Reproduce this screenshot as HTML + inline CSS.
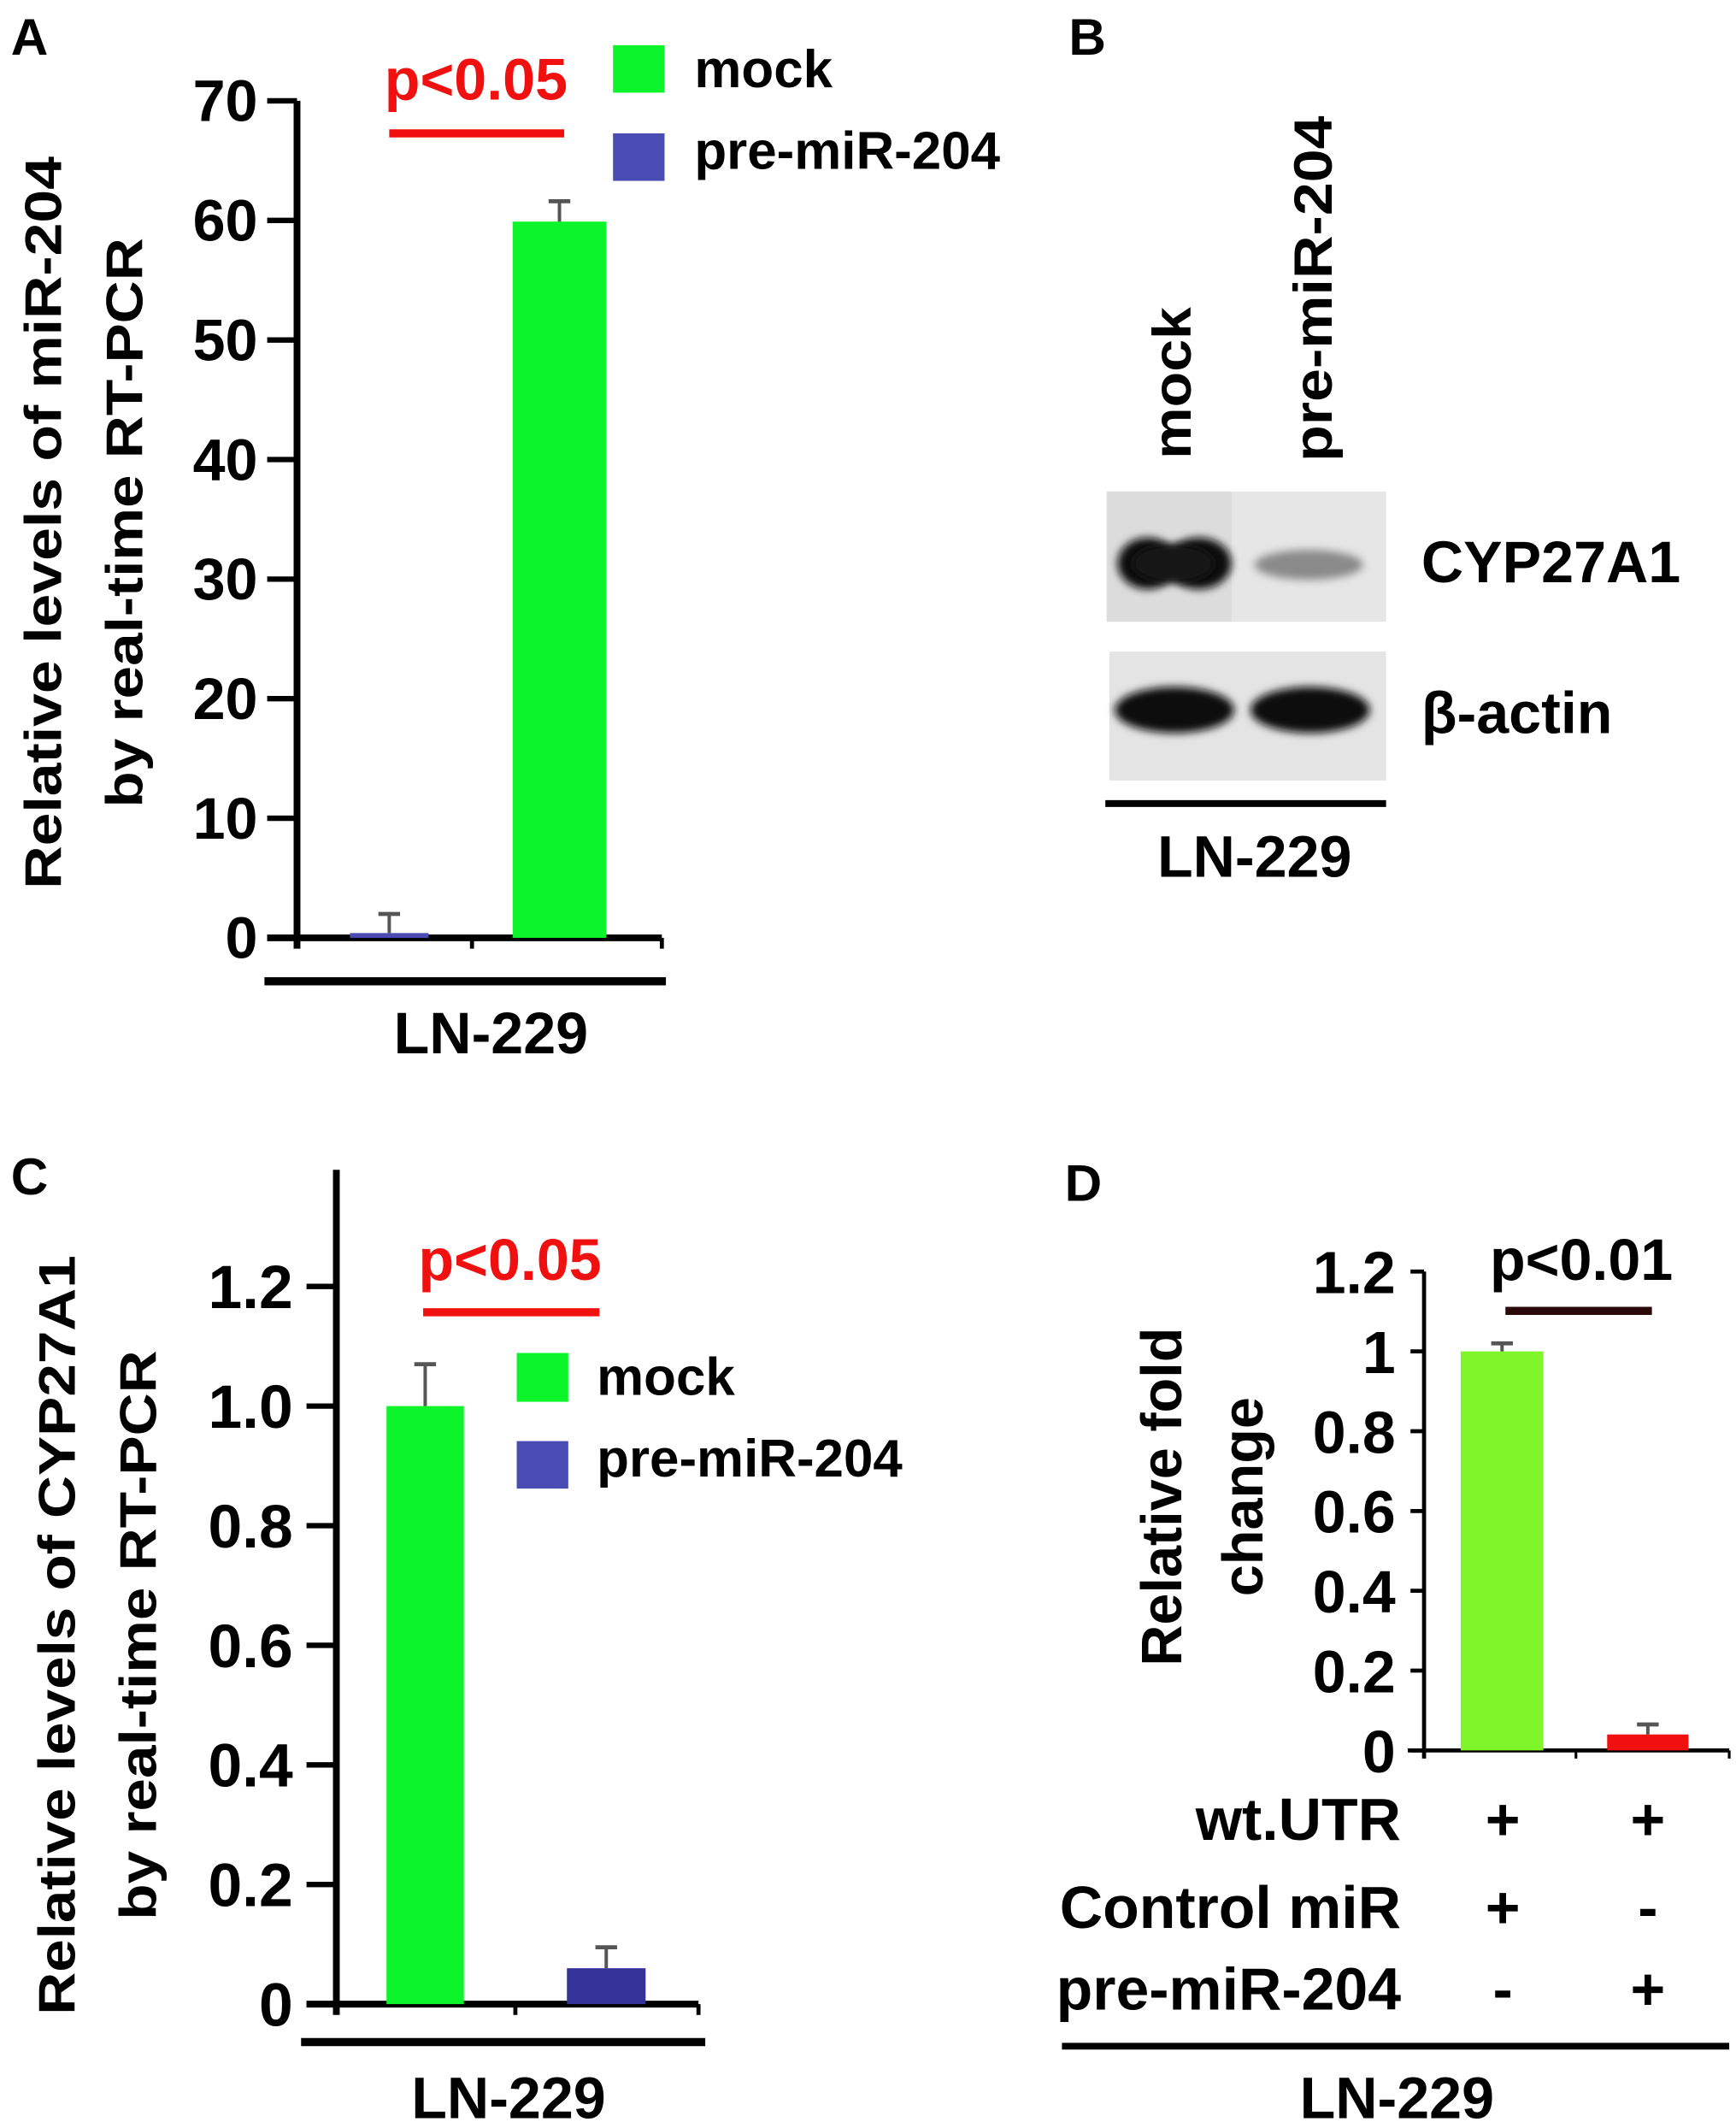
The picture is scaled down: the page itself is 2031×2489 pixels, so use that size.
<!DOCTYPE html>
<html><head><meta charset="utf-8"><style>
html,body{margin:0;padding:0;background:#fff}
svg{display:block;font-family:"Liberation Sans",Arial,sans-serif;font-weight:bold}
</style></head><body>
<svg id="fig" width="2031" height="2489" viewBox="0 0 1280 1568" xmlns="http://www.w3.org/2000/svg">
<g id="gA"></g>
<g id="gB"></g>
<g id="gC"></g>
<g id="gD"></g>
</svg>
<script>
// Panel A data
const aCategories = ["pre-miR-204", "mock"];
const aValues = [0.4, 59.9];
const aErrors = [1.6, 1.7];
const aTicks = [0, 10, 20, 30, 40, 50, 60, 70];
// Panel C data
const cCategories = ["mock", "pre-miR-204"];
const cValues = [1.0, 0.06];
const cErrors = [0.07, 0.035];
const cTicks = ["0", "0.2", "0.4", "0.6", "0.8", "1.0", "1.2"];
// Panel D data
const dCategories = ["wt.UTR+Control miR", "wt.UTR+pre-miR-204"];
const dValues = [1.0, 0.04];
const dErrors = [0.02, 0.025];
const dTicks = ["0", "0.2", "0.4", "0.6", "0.8", "1", "1.2"];

const NS = "http://www.w3.org/2000/svg";
function mk(parent, tag, attrs, text) {
  const e = document.createElementNS(NS, tag);
  for (const k in attrs) e.setAttribute(k, attrs[k]);
  if (text !== undefined) e.textContent = text;
  parent.appendChild(e);
  return e;
}
function line(p, x1, y1, x2, y2, w, c) {
  const l = mk(p, "line", {x1, y1, x2, y2, stroke: c || "#000", "stroke-width": w});
  
  
  return l;
}
function txt(p, x, y, s, size, anchor, fill, extra) {
  const t = mk(p, "text", Object.assign({x, y, "font-size": size, "text-anchor": anchor || "start", fill: fill || "#000"}, extra || {}), s);
  
  
  return t;
}
function bar(p, x0, x1, y0, yv, ye, col) {
  const r = mk(p, "rect", {x: x0, y: yv, width: x1 - x0, height: y0 - yv, fill: col});
  
  
  const cx = (x0 + x1) / 2;
  const eg = mk(p, "g", {stroke: "#555"});
  
  
  mk(eg, "line", {x1: cx, y1: yv, x2: cx, y2: ye, "stroke-width": 2.5});
  mk(eg, "line", {x1: cx - 8, y1: ye, x2: cx + 8, y2: ye, "stroke-width": 3});
}

// ---------- Panel A ----------
(function () {
  const g = document.getElementById("gA");
  const ax = 219, y0 = 691, yTop = 74, vmax = 70;
  const y = v => y0 - (v / vmax) * (y0 - yTop);
  const bx = [[258, 316], [378, 447]];
  const cols = ["#4b4bb4", "#0cf52a"];
  txt(g, 8, 40, "A", 38);
  line(g, ax, yTop, ax, y0 + 8, 5);
  line(g, ax - 22, y0, 488, y0, 5);
  line(g, 348, y0, 348, y0 + 8, 3);
  line(g, 488, y0, 488, y0 + 8, 3);
  aTicks.forEach(v => {
    line(g, ax - 22, y(v), ax, y(v), 4);
    txt(g, 190, y(v) + 15, String(v), 43, "end");
  });
  aValues.forEach((v, i) => bar(g, bx[i][0], bx[i][1], y0, y(v), y(v + aErrors[i]), cols[i]));
  line(g, 195, 723, 491, 723, 6);
  txt(g, 362, 776, "LN-229", 43, "middle");
  txt(g, 351, 73, "p<0.05", 43, "middle", "#f01010");
  line(g, 287, 98, 416, 98, 6, "#f01010");
  const l1 = mk(g, "rect", {x: 452, y: 33, width: 38, height: 35, fill: "#0cf52a"});
  
  
  const l2 = mk(g, "rect", {x: 452, y: 98, width: 38, height: 35, fill: "#4b4bb4"});
  
  
  txt(g, 512, 64, "mock", 39);
  txt(g, 512, 124, "pre-miR-204", 39);
  const yt = mk(g, "g", {});
  
  
  txt(yt, 0, 0, "Relative levels of miR-204", 38, "middle", "#000", {transform: "translate(45,385) rotate(-90)", textLength: 540, lengthAdjust: "spacingAndGlyphs"});
  txt(yt, 0, 0, "by real-time RT-PCR", 38, "middle", "#000", {transform: "translate(105,385) rotate(-90)", textLength: 420, lengthAdjust: "spacingAndGlyphs"});
})();

// ---------- Panel B ----------
(function () {
  const g = document.getElementById("gB");
  txt(g, 788, 40, "B", 38);
  txt(g, 0, 0, "mock", 40, "start", "#000", {transform: "translate(878,338) rotate(-90)", textLength: 112, lengthAdjust: "spacingAndGlyphs"});
  txt(g, 0, 0, "pre-miR-204", 40, "start", "#000", {transform: "translate(982,340) rotate(-90)", textLength: 255, lengthAdjust: "spacingAndGlyphs"});
  const defs = mk(g, "defs", {});
  const f = mk(defs, "filter", {id: "blur", x: "-20%", y: "-50%", width: "140%", height: "200%"});
  mk(f, "feGaussianBlur", {stdDeviation: 3});
  const b1 = mk(g, "g", {});
  
  
  mk(b1, "rect", {x: 816, y: 362, width: 206, height: 96, fill: "#e6e6e6"});
  mk(b1, "rect", {x: 816, y: 362, width: 92, height: 96, fill: "#dcdcdc"});
  mk(b1, "ellipse", {cx: 846, cy: 415, rx: 22, ry: 19, fill: "#111", filter: "url(#blur)"});
  mk(b1, "ellipse", {cx: 884, cy: 415, rx: 24, ry: 19, fill: "#111", filter: "url(#blur)"});
  mk(b1, "ellipse", {cx: 865, cy: 415, rx: 30, ry: 14, fill: "#151515", filter: "url(#blur)"});
  mk(b1, "ellipse", {cx: 965, cy: 416, rx: 40, ry: 11, fill: "#8a8a8a", filter: "url(#blur)"});
  const b2 = mk(g, "g", {});
  
  
  mk(b2, "rect", {x: 818, y: 480, width: 204, height: 95, fill: "#e4e4e4"});
  mk(b2, "ellipse", {cx: 866, cy: 523, rx: 44, ry: 17, fill: "#111", filter: "url(#blur)"});
  mk(b2, "ellipse", {cx: 966, cy: 523, rx: 44, ry: 17, fill: "#111", filter: "url(#blur)"});
  txt(g, 1048, 429, "CYP27A1", 43);
  txt(g, 1048, 540, "β-actin", 43);
  line(g, 815, 592, 1022, 592, 5);
  txt(g, 925, 646, "LN-229", 43, "middle");
})();

// ---------- Panel C ----------
(function () {
  const g = document.getElementById("gC");
  const ax = 248, y0 = 1477, y12 = 948;
  const y = v => y0 - (v / 1.2) * (y0 - y12);
  const bx = [[285, 342], [418, 476]];
  const cols = ["#0cf52a", "#33339a"];
  txt(g, 8, 880, "C", 38);
  line(g, ax, 862, ax, y0 + 8, 5);
  line(g, ax - 22, y0, 515, y0, 5);
  line(g, 380, y0, 380, y0 + 8, 3);
  line(g, 515, y0, 515, y0 + 8, 3);
  cTicks.forEach(s => {
    const v = parseFloat(s);
    line(g, ax - 22, y(v), ax, y(v), 4);
    txt(g, 216, y(v) + 16, s, 45, "end");
  });
  cValues.forEach((v, i) => bar(g, bx[i][0], bx[i][1], y0, y(v), y(v + cErrors[i]), cols[i]));
  line(g, 222, 1505, 520, 1505, 6);
  txt(g, 375, 1561, "LN-229", 43, "middle");
  txt(g, 376, 943, "p<0.05", 43, "middle", "#f01010");
  line(g, 312, 967, 442, 967, 6, "#f01010");
  const l1 = mk(g, "rect", {x: 381, y: 997, width: 38, height: 36, fill: "#0cf52a"});
  
  
  const l2 = mk(g, "rect", {x: 381, y: 1062, width: 38, height: 35, fill: "#4b4bb4"});
  
  
  txt(g, 440, 1028, "mock", 39);
  txt(g, 440, 1088, "pre-miR-204", 39);
  txt(g, 0, 0, "Relative levels of CYP27A1", 38, "middle", "#000", {transform: "translate(55,1205) rotate(-90)", textLength: 560, lengthAdjust: "spacingAndGlyphs"});
  txt(g, 0, 0, "by real-time RT-PCR", 38, "middle", "#000", {transform: "translate(115,1205) rotate(-90)", textLength: 420, lengthAdjust: "spacingAndGlyphs"});
})();

// ---------- Panel D ----------
(function () {
  const g = document.getElementById("gD");
  const ax = 1050, y0 = 1290, y12 = 937;
  const y = v => y0 - (v / 1.2) * (y0 - y12);
  const bx = [[1077, 1138], [1185, 1245]];
  const cols = ["#80f52a", "#f01010"];
  txt(g, 785, 885, "D", 38);
  line(g, ax, y12, ax, y0 + 6, 3);
  line(g, ax - 12, y0, 1275, y0, 3);
  line(g, 1162, y0, 1162, y0 + 6, 2);
  line(g, 1275, y0, 1275, y0 + 6, 2);
  dTicks.forEach(s => {
    const v = parseFloat(s);
    line(g, ax - 10, y(v), ax, y(v), 3);
    txt(g, 1029, y(v) + 16, s, 44, "end");
  });
  dValues.forEach((v, i) => bar(g, bx[i][0], bx[i][1], y0, y(v), y(v + dErrors[i]), cols[i]));
  txt(g, 1166, 943, "p<0.01", 43, "middle");
  line(g, 1110, 966, 1218, 966, 6, "#2a0808");
  txt(g, 0, 0, "Relative fold", 42, "middle", "#000", {transform: "translate(871,1103) rotate(-90)"});
  txt(g, 0, 0, "change", 42, "middle", "#000", {transform: "translate(931,1103) rotate(-90)"});
  const rows = [["wt.UTR", "+", "+", 1356], ["Control miR", "+", "-", 1421], ["pre-miR-204", "-", "+", 1481]];
  rows.forEach(r => {
    txt(g, 1033, r[3], r[0], 44, "end");
    txt(g, 1108, r[3], r[1], 44, "middle");
    txt(g, 1215, r[3], r[2], 44, "middle");
  });
  line(g, 783, 1508, 1275, 1508, 5);
  txt(g, 1030, 1561, "LN-229", 43, "middle");
})();
</script>
</body></html>
